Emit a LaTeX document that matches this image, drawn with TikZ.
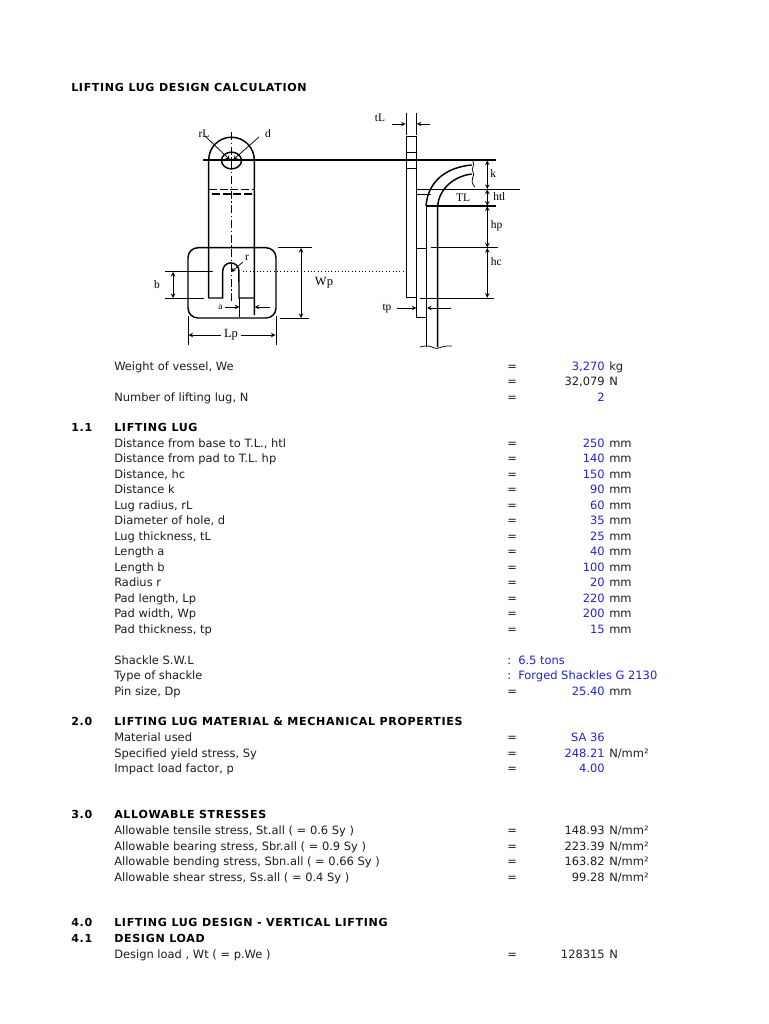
\documentclass[tikz,border=0pt]{standalone}
\usepackage{fontspec}
\setmainfont{DejaVu Sans}
\newfontfamily\dimfont{Liberation Serif}
\definecolor{calctext}{HTML}{1C1C1C}
\definecolor{calcblue}{HTML}{2222CC}
\tikzset{
    thickline/.style={line width=1.1pt},
    thinline/.style={line width=0.55pt},
    dimline/.style={line width=0.55pt, >=stealth},
    dimlabel/.style={inner sep=0pt, font=\dimfont\fontsize{8.6pt}{10pt}\selectfont},
    rowlabel/.style={anchor=base west, inner sep=0pt, text=calctext, font=\fontsize{8.6pt}{10pt}\selectfont},
    rowhead/.style={anchor=base west, inner sep=0pt, text=black, font=\fontsize{8.3pt}{10pt}\selectfont\bfseries\addfontfeature{LetterSpace=6}},
    rowvalue/.style={anchor=base east, inner sep=0pt, font=\fontsize{8.6pt}{10pt}\selectfont},
}
\begin{document}
\begin{tikzpicture}[x=0.75pt, y=-0.75pt]
    \useasboundingbox (0,0) rectangle (768,1024);

    % Front view of lug
    \draw[thickline] (208.7,298) -- (208.7,160) arc[start angle=180, end angle=0, radius=17.1pt] -- (254.3,315);
    \draw[thickline] (208.7,298) -- (222.7,298) -- (222.7,271) arc[start angle=180, end angle=0, radius=6.1pt] -- (239,298) -- (254.3,298);
    \draw[thickline] (203,160) -- (496,160);
    \draw[thickline] (231.5,160.5) ellipse[x radius=7.5pt, y radius=6.3pt];
    \draw[thinline, dash pattern=on 6pt off 2pt] (209,189.3) -- (254,189.3);
    \draw[thickline, dash pattern=on 6pt off 2pt] (212,194) -- (254,194);
    \draw[thinline, dash pattern=on 6pt off 2pt on 1pt off 2pt] (231.5,132) -- (231.5,303);
    \draw[thickline, rounded corners=7.5pt] (188,247.7) rectangle (276,318);

    % Leader arrows
    \node[dimlabel] (lblrL) at (204,134) {rL};
    \node[dimlabel] (lbld) at (268,134) {d};
    \node[dimlabel] (lblr) at (247,258) {r};
    \draw[dimline, ->] (205,136) -- (230,160);
    \draw[dimline, ->] (259,137) -- (233,160);
    \draw[dimline, ->] (243,262) -- (231,272);

    % Pad dimensions
    \draw[thinline] (165,271.7) -- (213,271.7);
    \draw[thinline] (165,298) -- (204,298);
    \draw[dimline, <->] (173,272) -- (173,298);
    \node[dimlabel] (lblb) at (157,285) {b};
    \draw[thinline] (277.7,247.7) -- (312,247.7);
    \draw[thinline] (280,318) -- (309,318);
    \draw[dimline, <->] (301,248) -- (301,318);
    \node[dimlabel, font=\dimfont\fontsize{9.4pt}{10pt}\selectfont] (lblWp) at (324,283) {Wp};
    \draw[thinline, dotted] (243,271.7) -- (408,271.7);
    \draw[thinline] (188,316) -- (188,345);
    \draw[thinline] (276,316) -- (276,345);
    \node[dimlabel, font=\dimfont\fontsize{9.4pt}{10pt}\selectfont] (lblLp) at (231,335) {Lp};
    \draw[dimline, ->] (lblLp.west) ++(-3,0) -- (188.5,335);
    \draw[dimline, ->] (lblLp.east) ++(3,0) -- (275.5,335);
    \draw[thinline] (239.6,298) -- (239.6,317);
    \node[dimlabel, font=\dimfont\fontsize{7pt}{8pt}\selectfont] (lbla) at (220.5,307) {a};
    \draw[dimline, ->] (225,307) -- (239.3,307);
    \draw[dimline, ->] (270,307) -- (254.6,307);

    % Side view of lug and pad
    \draw[thinline] (406,297.7) -- (406,136.7);
    \draw[thickline] (406,136.7) -- (416.7,136.7) -- (416.7,297.7) -- (406,297.7);
    \draw[thinline] (406,152) -- (416.7,152);
    \draw[thinline] (406,168) -- (416.7,168);
    \draw[thickline] (416.7,194.7) -- (430.7,194.7);
    \draw[thickline] (416.7,297.7) -- (416.7,317.7) -- (426,317.7);
    \draw[thinline] (416.7,248) -- (426,248);
    \draw[thinline] (406,113) -- (406,135);
    \draw[thinline] (416.5,113) -- (416.5,135);
    \draw[dimline, ->] (392,124) -- (405.7,124);
    \draw[dimline, ->] (430,124) -- (416.8,124);
    \node[dimlabel] (lbltL) at (380,118) {tL};
    \node[dimlabel] (lbltp) at (387,308) {tp};
    \draw[dimline, ->] (397,308) -- (416.4,308);
    \draw[dimline, ->] (451,308) -- (427,308);

    % Pipe shell
    \draw[thickline] (426,206) .. controls (428,180) and (448,167) .. (471.7,165);
    \draw[thickline] (437.7,347) -- (437.7,206) .. controls (439,188) and (455,176) .. (471.7,174);
    \draw[thinline] (426,206) -- (426,347);
    \draw[thinline] (472.7,160.7) .. controls (476,166) and (470,168) .. (473,172) .. controls (476,176) and (468,180) .. (475,187);
    \draw[thinline] (420,347) .. controls (428,345) and (430,346) .. (434,348) .. controls (438,350) and (442,345) .. (452,346);

    % Height dimensions
    \draw[thinline] (416.7,189.3) -- (520,189.3);
    \draw[thickline] (426,206) -- (496,206);
    \draw[thinline] (431,247.7) -- (498,247.7);
    \draw[thinline] (420,298) -- (494,298);
    \draw[dimline, <->] (487.3,160.5) -- (487.3,189);
    \draw[dimline, <->] (487.3,189.6) -- (487.3,205.7);
    \draw[dimline, <->] (487.3,206.3) -- (487.3,247.4);
    \draw[dimline, <->] (487.3,248) -- (487.3,297.7);
    \node[dimlabel, anchor=west] (lblk) at (490,174) {k};
    \node[dimlabel, anchor=west] (lblhtl) at (493,197) {htl};
    \node[dimlabel, anchor=west] (lblhp) at (490.5,226) {hp};
    \node[dimlabel, anchor=west] (lblhc) at (490.5,262) {hc};
    \node[dimlabel] (lblTL) at (463,198) {TL};

    % Section headings
    \foreach \rowy/\rowtext [count=\n] in {
        91/{LIFTING LUG DESIGN CALCULATION}}
        \node[rowhead] (title\n) at (71,\rowy) {\rowtext};
    \foreach \rowy/\rownum/\rowtext [count=\n] in {
        431/1.1/{LIFTING LUG},
        725/2.0/{LIFTING LUG MATERIAL \& MECHANICAL PROPERTIES},
        818/3.0/{ALLOWABLE STRESSES},
        926/4.0/{LIFTING LUG DESIGN - VERTICAL LIFTING},
        942/4.1/{DESIGN LOAD}} {
        \node[rowhead] (num\n) at (71,\rowy) {\rownum};
        \node[rowhead] (head\n) at (114,\rowy) {\rowtext};
    }

    % Rows with a blue value
    \foreach \rowy/\rowtext/\rowval/\rowunit [count=\n] in {
        370/{Weight of vessel, We}/{3,270}/kg,
        401/{Number of lifting lug, N}/2/{},
        447/{Distance from base to T.L., htl}/250/mm,
        462/{Distance from pad to T.L. hp}/140/mm,
        478/{Distance, hc}/150/mm,
        493/{Distance k}/90/mm,
        509/{Lug radius, rL}/60/mm,
        524/{Diameter of hole, d}/35/mm,
        540/{Lug thickness, tL}/25/mm,
        555/{Length a}/40/mm,
        571/{Length b}/100/mm,
        586/{Radius r}/20/mm,
        602/{Pad length, Lp}/220/mm,
        617/{Pad width, Wp}/200/mm,
        633/{Pad thickness, tp}/15/mm,
        695/{Pin size, Dp}/25.40/mm,
        741/{Material used}/{SA 36}/{},
        757/{Specified yield stress, Sy}/248.21/{N/mm²},
        772/{Impact load factor, p}/4.00/{}} {
        \node[rowlabel] (blue\n) at (114,\rowy) {\rowtext};
        \node[rowlabel] (blueeq\n) at (507,\rowy) {=};
        \node[rowvalue, text=calcblue] (blueval\n) at (605,\rowy) {\rowval};
        \node[rowlabel] (blueunit\n) at (609,\rowy) {\rowunit};
    }

    % Rows with a black value
    \foreach \rowy/\rowtext/\rowval/\rowunit [count=\n] in {
        385/{}/{32,079}/N,
        834/{Allowable tensile stress, St.all ( = 0.6 Sy )}/148.93/{N/mm²},
        850/{Allowable bearing stress, Sbr.all ( = 0.9 Sy )}/223.39/{N/mm²},
        865/{Allowable bending stress, Sbn.all ( = 0.66 Sy )}/163.82/{N/mm²},
        881/{Allowable shear stress, Ss.all ( = 0.4 Sy )}/99.28/{N/mm²},
        958/{Design load , Wt ( = p.We )}/128315/N} {
        \node[rowlabel] (black\n) at (114,\rowy) {\rowtext};
        \node[rowlabel] (blackeq\n) at (507,\rowy) {=};
        \node[rowvalue, text=calctext] (blackval\n) at (605,\rowy) {\rowval};
        \node[rowlabel] (blackunit\n) at (609,\rowy) {\rowunit};
    }

    % Shackle rows
    \foreach \rowy/\rowtext/\rowval [count=\n] in {
        664/{Shackle S.W.L}/{6.5 tons},
        679/{Type of shackle}/{Forged Shackles G 2130}} {
        \node[rowlabel] (shackle\n) at (114,\rowy) {\rowtext};
        \node[rowlabel] (shacklecol\n) at (507,\rowy) {:};
        \node[rowlabel, text=calcblue] (shackleval\n) at (518,\rowy) {\rowval};
    }
\end{tikzpicture}
\end{document}
